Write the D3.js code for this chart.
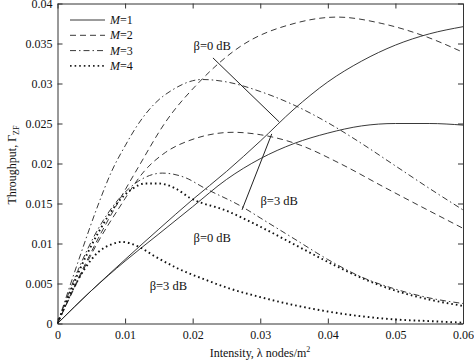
<!DOCTYPE html>
<html>
<head>
<meta charset="utf-8">
<script src="https://cdn.jsdelivr.net/npm/d3@7"></script>
<style>
  body { margin: 0; background: #fff; }
  svg { display: block; font-family: 'Liberation Serif', 'DejaVu Serif', serif; }
  .axis path, .axis line { stroke: #333; stroke-width: 1; }
  .axis text { font-size: 12px; fill: #111; font-family: 'Liberation Serif', serif; }
  .curve { fill: none; stroke: #222; stroke-width: 0.9; }
</style>
</head>
<body>
<svg id="chart" width="474" height="364"></svg>
<script>
// intensity (nodes/m^2) and throughput
const m1b0X = [0, 0.005, 0.01, 0.015, 0.02, 0.025, 0.03, 0.035, 0.04, 0.045, 0.05, 0.055, 0.06]
const m1b0Y = [0, 0.0041, 0.008, 0.0118, 0.0155, 0.019, 0.0228, 0.0268, 0.0302, 0.0328, 0.0348, 0.0362, 0.0371]

const m2b0X = [0, 0.003, 0.006, 0.009, 0.012, 0.016, 0.021, 0.027, 0.035, 0.0414, 0.048, 0.0547, 0.06]
const m2b0Y = [0, 0.0055, 0.0106, 0.0152, 0.0196, 0.0252, 0.0302, 0.0346, 0.0375, 0.0383, 0.0375, 0.0358, 0.0339]

const m3b0X = [0, 0.003, 0.006, 0.008, 0.01, 0.012, 0.0144, 0.017, 0.0214, 0.025, 0.03, 0.035, 0.04, 0.045, 0.05, 0.055, 0.06]
const m3b0Y = [0, 0.0076, 0.0148, 0.019, 0.0222, 0.025, 0.0275, 0.0292, 0.0305, 0.0302, 0.029, 0.0273, 0.0251, 0.0225, 0.0197, 0.0169, 0.0142]

const m4b0X = [0, 0.003, 0.006, 0.009, 0.011, 0.013, 0.015, 0.0174, 0.0196, 0.025, 0.03, 0.035, 0.04, 0.045, 0.05, 0.055, 0.06]
const m4b0Y = [0, 0.0062, 0.0113, 0.0152, 0.0168, 0.0175, 0.0175, 0.0169, 0.0157, 0.0141, 0.0121, 0.0099, 0.0077, 0.0057, 0.0041, 0.003, 0.0022]

const m1b3X = [0, 0.005, 0.01, 0.015, 0.02, 0.025, 0.03, 0.035, 0.04, 0.045, 0.05, 0.055, 0.06]
const m1b3Y = [0, 0.0041, 0.0078, 0.0112, 0.0146, 0.018, 0.0206, 0.0225, 0.0238, 0.0247, 0.025, 0.025, 0.0248]

const m2b3X = [0, 0.003, 0.006, 0.009, 0.013, 0.016, 0.0196, 0.026, 0.03, 0.0359, 0.0418, 0.0482, 0.06]
const m2b3Y = [0, 0.0053, 0.0102, 0.0143, 0.0192, 0.0214, 0.0229, 0.0239, 0.0236, 0.0223, 0.02, 0.0171, 0.0119]

const m3b3X = [0, 0.003, 0.006, 0.009, 0.012, 0.0155, 0.019, 0.0216, 0.0275, 0.03, 0.035, 0.04, 0.045, 0.05, 0.055, 0.06]
const m3b3Y = [0, 0.0066, 0.0118, 0.0155, 0.0178, 0.0188, 0.0182, 0.017, 0.0145, 0.0132, 0.0106, 0.008, 0.0058, 0.0043, 0.0032, 0.0025]

const m4b3X = [0, 0.002, 0.004, 0.006, 0.008, 0.0095, 0.012, 0.0144, 0.018, 0.0218, 0.025, 0.03, 0.035, 0.04, 0.045, 0.05, 0.055, 0.06]
const m4b3Y = [0, 0.0038, 0.0068, 0.0089, 0.0099, 0.0102, 0.0096, 0.0084, 0.0068, 0.0055, 0.0045, 0.0033, 0.0023, 0.0015, 0.0009, 0.0005, 0.0003, 0.0001]

const legendLabels = ['1', '2', '3', '4']
const xTicks = [0, 0.01, 0.02, 0.03, 0.04, 0.05, 0.06]
const yTicks = [0, 0.005, 0.01, 0.015, 0.02, 0.025, 0.03, 0.035, 0.04]

const annotTexts = ['β=0 dB', 'β=3 dB', 'β=0 dB', 'β=3 dB']
const annotX = [0.0229, 0.0328, 0.0229, 0.0164]
const annotY = [0.0342, 0.0148, 0.0102, 0.0042]
const pointerX = [[0.023, 0.0328], [0.0317, 0.0273]]
const pointerY = [[0.0332, 0.0252], [0.0237, 0.0142]]

// line styles per M
const DASH = ['none', '6,4', '6,3,1.5,3', '1.6,3']

const svg = d3.select('#chart')
const plotLeft = 57.5
const plotRight = 463
const plotTop = 3.5
const plotBottom = 323.5

const x = d3.scaleLinear().domain([0, 0.06]).range([plotLeft, plotRight])
const y = d3.scaleLinear().domain([0, 0.04]).range([plotBottom, plotTop])
const fmt = v => String(+v.toFixed(3))

/** Draw the four-sided box with inward ticks */
function drawAxes () {
  svg.append('g').attr('class', 'axis')
    .attr('transform', `translate(0,${plotBottom})`)
    .call(d3.axisBottom(x).tickValues(xTicks).tickFormat(fmt).tickSizeInner(-5).tickSizeOuter(0).tickPadding(7))
  svg.append('g').attr('class', 'axis')
    .attr('transform', `translate(${plotLeft},0)`)
    .call(d3.axisLeft(y).tickValues(yTicks).tickFormat(fmt).tickSizeInner(-5).tickSizeOuter(0).tickPadding(5))
  svg.append('g').attr('class', 'axis')
    .attr('transform', `translate(0,${plotTop})`)
    .call(d3.axisTop(x).tickValues(xTicks).tickFormat('').tickSizeInner(-5).tickSizeOuter(0))
  svg.append('g').attr('class', 'axis')
    .attr('transform', `translate(${plotRight},0)`)
    .call(d3.axisRight(y).tickValues(yTicks).tickFormat('').tickSizeInner(-5).tickSizeOuter(0))
}

function drawCurves () {
  const series = [
    [m1b0X, m1b0Y, 0], [m2b0X, m2b0Y, 1], [m3b0X, m3b0Y, 2], [m4b0X, m4b0Y, 3],
    [m1b3X, m1b3Y, 0], [m2b3X, m2b3Y, 1], [m3b3X, m3b3Y, 2], [m4b3X, m4b3Y, 3]
  ]
  const line = d3.line().x(d => x(d[0])).y(d => y(d[1])).curve(d3.curveMonotoneX)
  const g = svg.append('g').attr('clip-path', 'url(#clip)')
  series.forEach(([xs, ys, m]) => {
    g.append('path').attr('class', 'curve')
      .attr('d', line(xs.map((v, i) => [v, ys[i]])))
      .style('stroke-dasharray', DASH[m])
      .style('stroke-width', m === 3 ? 1.9 : 0.9)
      .style('stroke', m === 3 ? '#111' : '#222')
  })
}

function drawLegend () {
  const g = svg.append('g')
  legendLabels.forEach((lab, i) => {
    const yy = 20 + i * 15.3
    g.append('line').attr('x1', 70).attr('x2', 105).attr('y1', yy).attr('y2', yy)
      .attr('class', 'curve')
      .style('stroke-dasharray', DASH[i])
      .style('stroke-width', i === 3 ? 1.9 : 0.9)
    const t = g.append('text').attr('x', 110).attr('y', yy + 4)
      .style('font-size', '12px').style('fill', '#111')
    t.append('tspan').style('font-style', 'italic').text('M')
    t.append('tspan').text('=' + lab)
  })
}

function drawAnnotations () {
  annotTexts.forEach((txt, i) => {
    svg.append('text').attr('x', x(annotX[i])).attr('y', y(annotY[i]))
      .attr('text-anchor', 'middle').style('font-size', '12.5px').style('fill', '#111')
      .text(txt)
  })
  pointerX.forEach((px, i) => {
    svg.append('line')
      .attr('x1', x(px[0])).attr('y1', y(pointerY[i][0]))
      .attr('x2', x(px[1])).attr('y2', y(pointerY[i][1]))
      .style('stroke', '#222').style('stroke-width', 1)
  })
}

function drawTitles () {
  const xt = svg.append('text').attr('x', 260).attr('y', 357)
    .attr('text-anchor', 'middle').style('font-size', '12px').style('fill', '#111')
  xt.append('tspan').text('Intensity, λ nodes/m')
  xt.append('tspan').attr('dy', -5).style('font-size', '8px').text('2')

  const yt = svg.append('text').attr('transform', 'translate(16,165) rotate(-90)')
    .attr('text-anchor', 'middle').style('font-size', '12px').style('fill', '#111')
  yt.append('tspan').text('Throughput, Γ')
  yt.append('tspan').attr('dy', 3).style('font-size', '8px').text('ZF')
}

svg.append('clipPath').attr('id', 'clip').append('rect')
  .attr('x', plotLeft).attr('y', plotTop).attr('width', plotRight - plotLeft).attr('height', plotBottom - plotTop)

drawAxes()
drawCurves()
drawLegend()
drawAnnotations()
drawTitles()
</script>
</body>
</html>
